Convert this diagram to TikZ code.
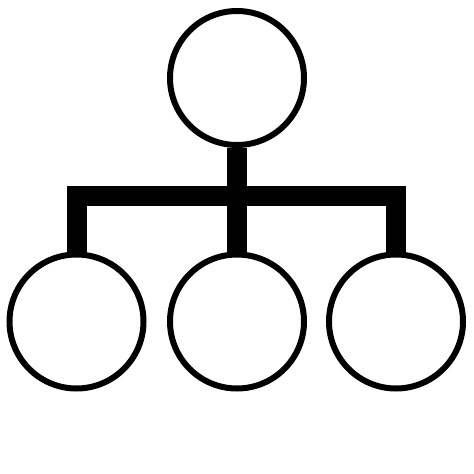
\documentclass[tikz,border=0pt]{standalone}
\usepackage{tikz}

\tikzset{
	member/.style={circle,draw,line width=6pt,minimum size=134pt,inner sep=0pt},
	branch/.style={line width=20pt,line join=miter}
}

\begin{document}
\begin{tikzpicture}[x=1pt,y=-1pt]
	\useasboundingbox (0,0) rectangle (474,474);
	\node (head) [member] at (237,78) {};
	\node (left) [member] at (76.5,321.5) {};
	\node (mid) [member] at (237,321.5) {};
	\node (right) [member] at (396,321.5) {};
	\coordinate (bar) at (237,196);
	\draw[branch] (head.south) -- (mid.north);
	\draw[branch] (left.north) -- (left.north |- bar) -- (right.north |- bar) -- (right.north);
\end{tikzpicture}
\end{document}
